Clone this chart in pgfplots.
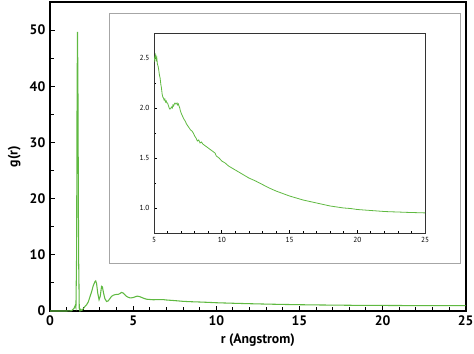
\documentclass[border=0pt]{standalone}
\usepackage{pgfplots}
\pgfplotsset{compat=1.18}
\usepackage{fontspec}
\setmainfont{PT Sans}
\definecolor{lg}{RGB}{95,185,65}
\begin{document}
\begin{tikzpicture}
\begin{axis}[name=main,
  scale only axis, width=311.8pt, height=231.75pt,
  xmin=0, xmax=25, ymin=0, ymax=55,
  xtick={0,5,...,25}, ytick={0,10,...,50},
  minor x tick num=4, minor y tick num=1,
  tick align=inside, major tick length=4pt, minor tick length=3pt,
  xtick pos=bottom, ytick pos=left,
  axis line style={line width=1.4pt}, every tick/.style={black, line width=0.8pt},
  font=\fontsize{10.3}{12}\selectfont\bfseries,
  /pgf/number format/assume math mode=true,
  xlabel={r (Angstrom)}, ylabel={g(r)},
  xlabel style={yshift=1pt}, ylabel style={yshift=0pt},
]
\addplot[lg, line width=0.8pt] coordinates {
(0,0) (1.0,0) (1.3,0.05) (1.45,0.5) (1.52,1.0) (1.56,0.6) (1.6,10) (1.63,40) (1.655,49.7) (1.68,40) (1.72,10) (1.76,0.5) (1.8,0) (1.85,0.3) (1.9,0.1) (1.95,0.2) (2.0,0.4) (2.1,0.8) (2.2,1.1) (2.3,1.6) (2.4,2.5) (2.5,3.4) (2.6,4.5) (2.7,5.2) (2.75,5.35) (2.8,4.9) (2.87,3.2) (2.95,2.0) (3.02,2.6) (3.1,4.4) (3.15,4.3) (3.22,3.2) (3.3,2.2) (3.4,1.7) (3.5,1.8) (3.6,2.2) (3.7,2.6) (3.8,2.8) (3.9,2.9) (4.0,2.95) (4.1,2.95) (4.2,3.1) (4.3,3.3) (4.4,3.2) (4.5,2.9) (4.6,2.6) (4.7,2.45) (4.8,2.35) (4.9,2.35) (5.0,2.4) (5.1,2.5) (5.25,2.65) (5.4,2.55) (5.6,2.3) (5.8,2.1) (6.0,2.05) (6.2,2.0) (6.5,2.03) (6.8,2.03) (7.0,1.96) (7.5,1.85) (8,1.72) (8.5,1.65) (9,1.6) (9.5,1.54) (10,1.47) (11,1.38) (12,1.30) (13,1.23) (14,1.17) (15,1.12) (16,1.08) (17,1.05) (18,1.02) (19,1.00) (20,0.99) (21,0.975) (22,0.965) (23,0.96) (24,0.955) (25,0.95)
};
\draw[gray!70, line width=0.6pt] (axis cs:3.55,8.54) rectangle (axis cs:24.65,53);
\end{axis}
\begin{axis}[at={(78pt,58.5pt)}, anchor=south west,
  scale only axis, width=203.25pt, height=150pt,
  xmin=5, xmax=25, ymin=0.75, ymax=2.75,
  xtick={5,10,...,25}, ytick={1.0,1.5,2.0,2.5},
  minor x tick num=4, minor y tick num=1,
  tick align=inside, major tick length=2.5pt, minor tick length=1.8pt,
  xtick pos=bottom, ytick pos=left,
  axis line style={line width=0.6pt, black!80}, every tick/.style={black, line width=0.5pt},
  font=\fontsize{5.5}{6.5}\selectfont,
  /pgf/number format/assume math mode=true,
  yticklabel style={/pgf/number format/.cd, fixed, fixed zerofill, precision=1},
]
\addplot[lg, line width=0.6pt] coordinates {
(5.0,2.46) (5.05,2.50) (5.1,2.53) (5.15,2.48) (5.2,2.51) (5.25,2.44) (5.3,2.42) (5.35,2.38) (5.4,2.33) (5.45,2.30) (5.5,2.24) (5.55,2.20) (5.6,2.14) (5.65,2.11) (5.7,2.10) (5.75,2.08) (5.8,2.09) (5.85,2.06) (5.9,2.07) (5.95,2.05) (6.0,2.05) (6.05,2.03) (6.1,2.01) (6.15,1.99) (6.2,1.99) (6.25,2.00) (6.3,2.01) (6.35,2.00) (6.4,2.03) (6.45,2.02) (6.5,2.04) (6.55,2.05) (6.6,2.04) (6.65,2.04) (6.7,2.05) (6.75,2.03) (6.8,2.04) (6.85,2.02) (6.9,2.00) (6.95,1.97) (7.0,1.95) (7.1,1.92) (7.2,1.89) (7.3,1.87) (7.4,1.84) (7.5,1.82) (7.6,1.80) (7.7,1.78) (7.8,1.77) (7.9,1.75) (8.0,1.72) (8.1,1.70) (8.2,1.67) (8.3,1.68) (8.4,1.65) (8.5,1.66) (8.6,1.64) (8.7,1.63) (8.8,1.62) (8.9,1.61) (9.0,1.60) (9.2,1.58) (9.4,1.56) (9.5,1.55) (9.6,1.52) (9.7,1.51) (9.8,1.50) (10.0,1.47) (10.25,1.45) (10.5,1.42) (10.75,1.40) (11,1.38) (11.25,1.36) (11.5,1.34) (11.75,1.32) (12,1.30) (12.5,1.27) (13,1.235) (13.5,1.20) (14,1.17) (14.5,1.145) (15,1.12) (15.5,1.10) (16,1.08) (16.5,1.065) (17,1.05) (17.5,1.035) (18,1.02) (18.5,1.01) (19,1.0) (19.5,0.995) (20,0.985) (20.5,0.98) (21,0.975) (21.5,0.97) (22,0.965) (22.5,0.962) (23,0.96) (23.5,0.957) (24,0.955) (24.5,0.953) (25,0.951)
};
\end{axis}
\pgfresetboundingbox
\path ([xshift=-37.5pt,yshift=-31.5pt]main.south west) rectangle ([xshift=6.2pt,yshift=1.5pt]main.north east);
\end{tikzpicture}
\end{document}
